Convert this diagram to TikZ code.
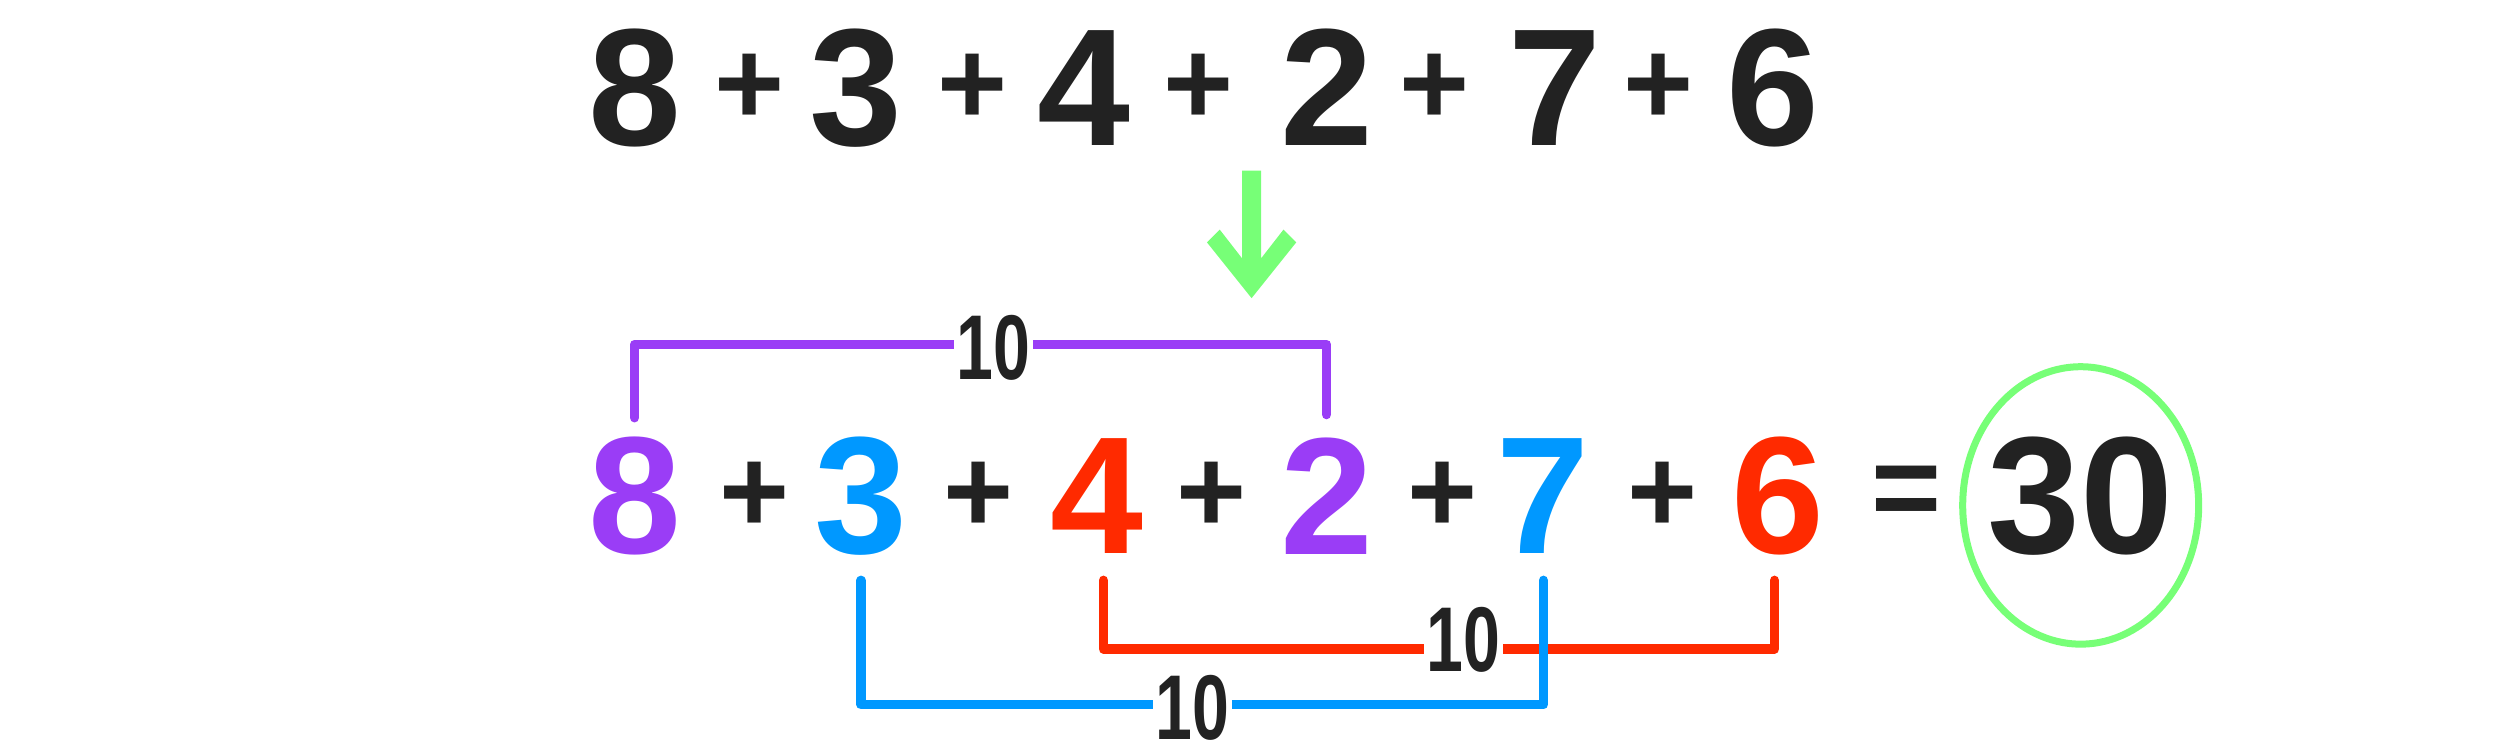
\documentclass[tikz,border=0pt]{standalone}
\usepackage{fontspec}
\setmainfont{Liberation Sans}
\definecolor{pur}{HTML}{9A3DF6}
\definecolor{blu}{HTML}{0098FF}
\definecolor{rd}{HTML}{FF2A00}
\definecolor{grn}{HTML}{77FF77}
\definecolor{ink}{HTML}{222222}
\begin{document}
\begin{tikzpicture}[x=1.5944pt,y=-1.5944pt,
  dig/.style={inner sep=0pt,font=\fontsize{167}{167}\selectfont\bfseries,text=ink},
  pl/.style={inner sep=0pt,font=\fontsize{120}{120}\selectfont\bfseries,text=ink},
  ten/.style={inner sep=4pt,fill=white,font=\fontsize{92}{92}\selectfont\bfseries,text=ink,xscale=0.72},
  br/.style={line width=9.5pt,line cap=round,line join=round}]
\useasboundingbox (0,0) rectangle (1568,473.5);
% top row
\foreach \x/\t [count=\i] in {398/8,537/3,680/4,832/2,975/7,1112/6}{
  \node[dig] (t\i) at (\x,55) {\t};}
\foreach \x [count=\i] in {470,610,752,900,1040}{
  \node[pl] (tp\i) at (\x,56) {+};}
% arrow
\fill[grn] (779,107) -- (791,107) -- (791,162) -- (805,144) -- (813,152) -- (785,187) -- (757,152) -- (765,144) -- (779,162) -- cycle;
% bottom row
\node[dig,text=pur] (b1) at (398,311) {8};
\node[dig,text=blu] (b2) at (540,311) {3};
\node[dig,text=rd] (b3) at (688,311) {4};
\node[dig,text=pur] (b4) at (832,311) {2};
\node[dig,text=blu] (b5) at (968,311) {7};
\node[dig,text=rd] (b6) at (1115,311) {6};
\foreach \x [count=\i] in {473,614,760,905,1043}{
  \node[pl] (bp\i) at (\x,312) {+};}
\node[pl] (eq) at (1196,312) {=};
\node[dig] (res) at (1305,311) {30};
\draw[grn,line width=7pt] (1305,317) ellipse [x radius=74, y radius=87];
% brackets
\draw[br,pur] (398,262) -- (398,216) -- (832,216) -- (832,260);
\node[ten] (l1) at (623,218) {10};
\draw[br,rd] (692,364) -- (692,407) -- (1113,407) -- (1113,364);
\node[ten] (l2) at (918,401) {10};
\draw[br,blu] (540,364) -- (540,442) -- (968,442) -- (968,364);
\node[ten] (l3) at (748,444) {10};
\end{tikzpicture}
\end{document}
